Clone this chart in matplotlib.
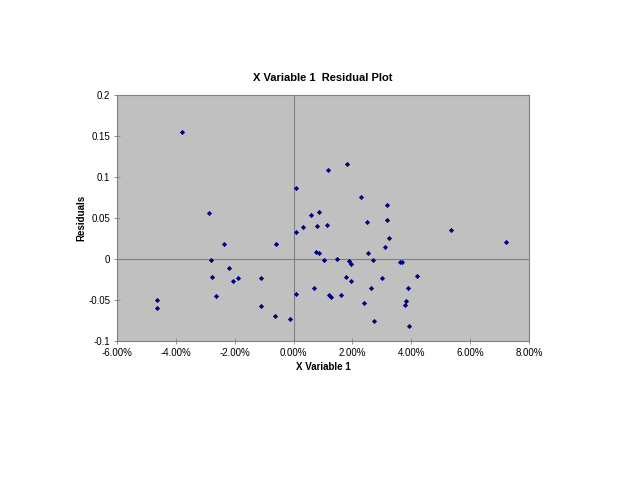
import matplotlib
matplotlib.use("Agg")
import matplotlib.pyplot as plt
from matplotlib.ticker import FuncFormatter

plt.rcParams['font.family'] = ['Liberation Sans', 'DejaVu Sans']

# residuals (x in percent)
x_pct = [-3.79, -2.86, 0.07, 1.16, 1.81, 2.31, 3.16,
         -4.63, -4.64, -2.35, -2.82, -2.19, -2.76, -1.88, -2.05, -2.64,
         -1.10, -0.58, -1.09, -0.64, -0.12, 0.09, 0.33, 0.60, 0.85, 0.79,
         1.13, 0.78, 0.86, 1.03, 0.71, 0.10, 1.20,
         2.50, 3.18, 5.35, 7.23, 3.23, 3.10, 2.53, 1.47, 1.90, 1.96, 2.70,
         3.61, 3.69, 1.77, 1.94, 3.00, 4.20, 2.64, 3.89, 1.28, 1.63, 2.41,
         3.81, 3.80, 2.74, 3.93]
resid = [0.155, 0.056, 0.087, 0.109, 0.116, 0.0756, 0.066,
         -0.0496, -0.060, 0.0187, -0.0008, -0.011, -0.022, -0.023, -0.027, -0.0455,
         -0.0228, 0.0187, -0.0577, -0.0695, -0.0724, 0.0337, 0.039, 0.054, 0.0573, 0.040,
         0.042, 0.0085, 0.0077, -0.0008, -0.035, -0.042, -0.044,
         0.0447, 0.048, 0.035, 0.0204, 0.026, 0.0146, 0.0081, 0.0, -0.002, -0.006, -0.0012,
         -0.0037, -0.0029, -0.022, -0.027, -0.0224, -0.0203, -0.0346, -0.035, -0.046, -0.0435, -0.054,
         -0.0508, -0.0553, -0.0756, -0.0817]

x_vals = [v / 100 for v in x_pct]
x_ticks = [-0.06, -0.04, -0.02, 0.0, 0.02, 0.04, 0.06, 0.08]
y_ticks = [-0.1, -0.05, 0, 0.05, 0.1, 0.15, 0.2]
y_tick_labels = ['-0.1', '-0.05', '0', '0.05', '0.1', '0.15', '0.2']

fig = plt.figure(figsize=(6.38, 4.93), dpi=100)
ax = fig.add_axes([0.1834, 0.308, 0.6456, 0.499])
ax.set_facecolor('#C0C0C0')

ax.axhline(0, color='#808080', lw=0.8, zorder=1)
ax.axvline(0, color='#808080', lw=0.8, zorder=1)
ax.scatter(x_vals, resid, marker='D', s=7, color='#000080', zorder=3, linewidths=0)

ax.set_xlim(-0.06, 0.08)
ax.set_ylim(-0.1, 0.2)
ax.set_xticks(x_ticks)
ax.xaxis.set_major_formatter(FuncFormatter(lambda v, p: '%.2f%%' % (v * 100)))
ax.set_yticks(y_ticks)
ax.set_yticklabels(y_tick_labels)
ax.tick_params(labelsize=7, length=4, width=0.6, color='#808080', direction='inout', pad=3)

for s in ax.spines.values():
    s.set_color('#808080')
    s.set_linewidth(0.8)

ax.set_title('X Variable 1  Residual Plot', fontsize=8, fontweight='bold', pad=10)
ax.set_xlabel('X Variable 1', fontsize=7, fontweight='bold', labelpad=3)
ax.set_ylabel('Residuals', fontsize=7, fontweight='bold', labelpad=1)

fig.savefig('out.png', dpi=100)
